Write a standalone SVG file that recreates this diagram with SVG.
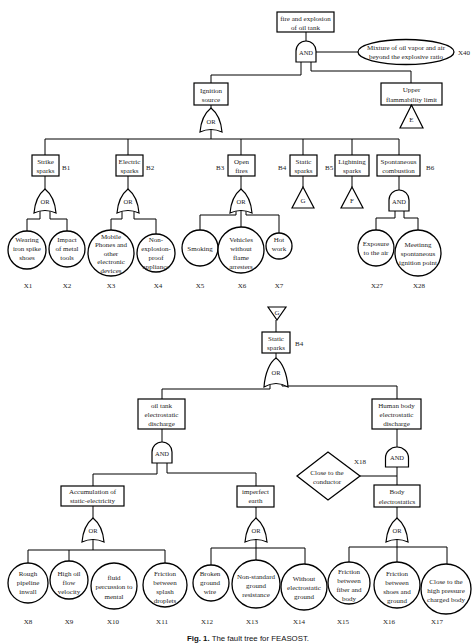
<svg xmlns="http://www.w3.org/2000/svg" width="474" height="644" viewBox="0 0 474 644">
<style>
.ln{fill:none;stroke:#000;stroke-width:1}
.bx{fill:#fff;stroke:#000;stroke-width:1.2}
.cr{fill:#fff;stroke:#000;stroke-width:1.3}
.gt{fill:#fff;stroke:#000;stroke-width:1.2}
text{font-family:"Liberation Serif","Times New Roman",serif;font-size:7px;fill:#222;text-anchor:middle}
.lb{text-anchor:start}
.g{font-size:6.5px}
.cap{font-family:"Liberation Sans",Arial,sans-serif;font-size:8px;text-anchor:start;fill:#111}
</style>
<defs>
<path id="or" d="M0,0 C5,4 10,12 11,24 Q0,19 -11,24 C-10,12 -5,4 0,0 Z"/>
<path id="and" d="M-10,21 L-10,10 A10,10 0 0 1 10,10 L10,21 Z"/>
</defs>

<g id="connectors">
<path class="ln" d="M306,32 V42 M316,52 H358 M301,61 V75 H211 V83 M311,61 V71 H411 V83"/>
<path class="ln" d="M211,105 V108 M211,129 V139 M45,139 H399 M45,139 V155 M128,139 V155 M241,139 V155 M303,139 V155 M352,139 V155 M399,139 V155"/>
<path class="ln" d="M45,176 V189 M128,176 V189 M241,176 V189 M303,176 V187 M352,176 V187 M399,176 V190 M411,105 V106"/>
<path class="ln" d="M40,209 V219 H27 V231 M50,209 V219 H67 V231 M122,209 V219 H111 V230 M134,209 V219 H156 V234 M236,209 V215 H200 V230 M241,209 V227 M246,209 V215 H279 V233 M395,211 V218 H376 V230 M404,211 V218 H418 V230"/>
<path class="ln" d="M276,320 V332 M276,353 V358 M270,384 V389 H162 V399 M282,384 V386 H397 V399"/>
<path class="ln" d="M162,429 V442 M157,463 V474 H93 V486 M167,463 V473 H256 V486 M93,506 V518 M256,507 V518"/>
<path class="ln" d="M397,429 V447 M397,467 V485 M360,476 H397 M397,507 V518"/>
<path class="ln" d="M93,539 V550 M28,550 H165 M28,550 V563 M69,550 V561 M165,550 V563"/>
<path class="ln" d="M256,539 V560 M211,548 H305 M211,548 V565 M305,548 V564"/>
<path class="ln" d="M397,539 V562 M349,547 H447 M349,547 V562 M447,547 V564"/>
</g>

<g id="top-event">
<rect class="bx" x="277" y="12" width="57" height="20"/>
<text x="305.5" y="20.5">fire and explosion</text>
<text x="305.5" y="29.5">of oil tank</text>
</g>
<g id="and-top"><use href="#and" class="gt" transform="translate(306,41)"/><text class="g" x="306" y="55">AND</text></g>
<g id="x40">
<ellipse class="cr" cx="406" cy="52" rx="48" ry="12.5"/>
<text x="406" y="50">Mixture of oil vapor and air</text>
<text x="406" y="59">beyond the explosive ratio</text>
<text class="lb" x="458" y="55">X40</text>
</g>
<g id="ignition">
<rect class="bx" x="194" y="83" width="34" height="22"/>
<text x="211" y="92.5">Ignition</text>
<text x="211" y="101.5">source</text>
</g>
<g id="upper">
<rect class="bx" x="381" y="83" width="61" height="22"/>
<text x="411.5" y="91.5">Upper</text>
<text x="411.5" y="101.5">flammability limit</text>
</g>
<g id="E"><polygon class="gt" points="411.5,105 400,128 423,128"/><text x="411.5" y="122">E</text></g>
<g id="or-ign"><use href="#or" class="gt" transform="translate(211,108)"/><text class="g" x="211" y="123.5">OR</text></g>

<g id="B1">
<rect class="bx" x="32" y="155" width="27" height="21"/>
<text x="45.5" y="164">Strike</text><text x="45.5" y="173">sparks</text>
<text class="lb" x="62" y="170">B1</text>
</g>
<g id="B2">
<rect class="bx" x="116" y="155" width="27" height="21"/>
<text x="129.5" y="164">Electric</text><text x="129.5" y="173">sparks</text>
<text class="lb" x="146" y="170">B2</text>
</g>
<g id="B3">
<rect class="bx" x="228" y="155" width="27" height="21"/>
<text x="241.5" y="164">Open</text><text x="241.5" y="173">fires</text>
<text class="lb" x="216" y="170">B3</text>
</g>
<g id="B4">
<rect class="bx" x="290" y="155" width="27" height="21"/>
<text x="303.5" y="164">Static</text><text x="303.5" y="173">sparks</text>
<text class="lb" x="278" y="170">B4</text>
</g>
<g id="B5">
<rect class="bx" x="335" y="155" width="34" height="21"/>
<text x="352" y="164">Lightning</text><text x="352" y="173">sparks</text>
<text class="lb" x="325" y="170">B5</text>
</g>
<g id="B6">
<rect class="bx" x="377" y="155" width="43" height="21"/>
<text x="398.5" y="164">Spontaneous</text><text x="398.5" y="173">combustion</text>
<text class="lb" x="426" y="170">B6</text>
</g>

<g id="or-b1"><use href="#or" class="gt" transform="translate(45,189)"/><text class="g" x="45" y="204">OR</text></g>
<g id="or-b2"><use href="#or" class="gt" transform="translate(128,189)"/><text class="g" x="128" y="204">OR</text></g>
<g id="or-b3"><use href="#or" class="gt" transform="translate(241,189)"/><text class="g" x="241" y="204">OR</text></g>
<g id="G1"><polygon class="gt" points="303,187 292,208 314,208"/><text x="303" y="203">G</text></g>
<g id="F"><polygon class="gt" points="352,187 341,208 363,208"/><text x="352" y="203">F</text></g>
<g id="and-b6"><use href="#and" class="gt" transform="translate(399,190)"/><text class="g" x="399" y="203.5">AND</text></g>

<g id="X1"><circle class="cr" cx="27" cy="250" r="19"/><text x="27" y="242">Wearing</text><text x="27" y="251">iron spike</text><text x="27" y="260">shoes</text><text x="28" y="288">X1</text></g>
<g id="X2"><circle class="cr" cx="67" cy="249" r="18"/><text x="67" y="241.5">Impact</text><text x="67" y="250.5">of metal</text><text x="67" y="259.5">tools</text><text x="67" y="288">X2</text></g>
<g id="X3"><circle class="cr" cx="111" cy="253" r="23"/><text x="111" y="238.5">Mobile</text><text x="111" y="247">Phones and</text><text x="111" y="255.5">other</text><text x="111" y="264">electronic</text><text x="111" y="272.5">devices</text><text x="111" y="288">X3</text></g>
<g id="X4"><circle class="cr" cx="156" cy="253" r="19"/><text x="156" y="241.5">Non-</text><text x="156" y="250.5">explosion-</text><text x="156" y="259.5">proof</text><text x="156" y="268.5">appliance</text><text x="158" y="288">X4</text></g>
<g id="X5"><circle class="cr" cx="200" cy="248" r="18"/><text x="200" y="250.5">Smoking</text><text x="200" y="288">X5</text></g>
<g id="X6"><circle class="cr" cx="241" cy="250" r="23"/><text x="241" y="241.5">Vehicles</text><text x="241" y="250.5">without</text><text x="241" y="259.5">flame</text><text x="241" y="268.5">arresters</text><text x="242" y="288">X6</text></g>
<g id="X7"><circle class="cr" cx="279" cy="246" r="13"/><text x="279" y="241.5">Hot</text><text x="279" y="250.5">work</text><text x="279" y="288">X7</text></g>
<g id="X27"><circle class="cr" cx="376" cy="248" r="18"/><text x="376" y="245.5">Exposure</text><text x="376" y="255">to the air</text><text x="377" y="288">X27</text></g>
<g id="X28"><circle class="cr" cx="418" cy="253" r="23"/><text x="418" y="246.5">Meetinng</text><text x="418" y="255.5">spontaneous</text><text x="418" y="265">ignition point</text><text x="419" y="288">X28</text></g>

<g id="G2"><polygon class="gt" points="268,307 286,307 277,320"/><text x="277" y="315">G</text></g>
<g id="B4b">
<rect class="bx" x="262" y="332" width="28" height="21"/>
<text x="276" y="340.5">Static</text><text x="276" y="350">sparks</text>
<text class="lb" x="295" y="346">B4</text>
</g>
<g id="or-b4"><path class="gt" d="M276,358 C282,362 287,373 288,387 Q276,380 264,387 C265,373 270,362 276,358 Z"/><text class="g" x="276" y="375">OR</text></g>
<g id="oil-tank">
<rect class="bx" x="138" y="399" width="47" height="30"/>
<text x="161.5" y="407.5">oil tank</text><text x="161.5" y="416.5">electrostatic</text><text x="161.5" y="425.5">discharge</text>
</g>
<g id="human-body">
<rect class="bx" x="372" y="399" width="49" height="30"/>
<text x="396.5" y="407.5">Human body</text><text x="396.5" y="416.5">electrostatic</text><text x="396.5" y="425.5">discharge</text>
</g>
<g id="and-oil"><use href="#and" class="gt" transform="translate(162,442)"/><text class="g" x="162" y="455.5">AND</text></g>
<g id="and-hb"><path class="gt" d="M385.5,467 L385.5,458 A11.5,11 0 0 1 408.5,458 L408.5,467 Z"/><text class="g" x="397" y="459.5">AND</text></g>
<g id="X18">
<polygon class="cr" points="297,476 328,452 360,476 328,500"/>
<text x="327" y="474.5">Close to the</text><text x="327" y="483.5">conductor</text>
<text class="lb" x="354" y="464">X18</text>
</g>
<g id="accum">
<rect class="bx" x="61" y="486" width="63" height="20"/>
<text x="92.5" y="493.5">Accumulation of</text><text x="92.5" y="502.5">static-electricity</text>
</g>
<g id="imperfect">
<rect class="bx" x="237" y="486" width="37" height="21"/>
<text x="255.5" y="493.5">imperfect</text><text x="255.5" y="502.5">earth</text>
</g>
<g id="body-es">
<rect class="bx" x="374" y="485" width="46" height="22"/>
<text x="397" y="494">Body</text><text x="397" y="503.5">electrostatics</text>
</g>
<g id="or-acc"><use href="#or" class="gt" transform="translate(93,518)"/><text class="g" x="93" y="533">OR</text></g>
<g id="or-imp"><use href="#or" class="gt" transform="translate(256,518)"/><text class="g" x="256" y="533">OR</text></g>
<g id="or-body"><use href="#or" class="gt" transform="translate(397,518)"/><text class="g" x="397" y="533">OR</text></g>

<g id="X8"><circle class="cr" cx="28" cy="583" r="20"/><text x="28" y="575.5">Rough</text><text x="28" y="584.5">pipeline</text><text x="28" y="594">inwall</text><text x="28" y="623.5">X8</text></g>
<g id="X9"><circle class="cr" cx="69" cy="580" r="19"/><text x="69" y="575.5">High oil</text><text x="69" y="584.5">flow</text><text x="69" y="594">velocity</text><text x="69" y="623.5">X9</text></g>
<g id="X10"><circle class="cr" cx="114" cy="586" r="23"/><text x="114" y="579.5">fluid</text><text x="114" y="589">percussion to</text><text x="114" y="598.5">mental</text><text x="113" y="623.5">X10</text></g>
<g id="X11"><circle class="cr" cx="165" cy="585" r="22"/><text x="165" y="575.5">Friction</text><text x="165" y="584.5">between</text><text x="165" y="594">splash</text><text x="165" y="603">droplets</text><text x="162" y="623.5">X11</text></g>
<g id="X12"><circle class="cr" cx="211" cy="583" r="18"/><text x="210" y="575.5">Broken</text><text x="210" y="584.5">ground</text><text x="210" y="594">wire</text><text x="207" y="623.5">X12</text></g>
<g id="X13"><circle class="cr" cx="256" cy="584" r="24"/><text x="256" y="578.5">Non-standard</text><text x="256" y="587.5">ground</text><text x="256" y="597">resistance</text><text x="252" y="623.5">X13</text></g>
<g id="X14"><circle class="cr" cx="304" cy="587" r="23"/><text x="304" y="580.5">Without</text><text x="304" y="589.5">electrostatic</text><text x="304" y="599">ground</text><text x="299" y="623.5">X14</text></g>
<g id="X15"><circle class="cr" cx="349" cy="583" r="21"/><text x="349" y="573.5">Friction</text><text x="349" y="582.5">between</text><text x="349" y="592">fiber and</text><text x="349" y="600.5">body</text><text x="343" y="623.5">X15</text></g>
<g id="X16"><circle class="cr" cx="397" cy="585" r="23"/><text x="397" y="575.5">Friction</text><text x="397" y="584.5">between</text><text x="397" y="594">shoes and</text><text x="397" y="603">ground</text><text x="389" y="623.5">X16</text></g>
<g id="X17"><circle class="cr" cx="446" cy="589" r="25"/><text x="446" y="583.5">Close to the</text><text x="446" y="592.5">high pressure</text><text x="446" y="602">charged body</text><text x="437" y="623.5">X17</text></g>

<text class="cap" x="187" y="641" textLength="122" lengthAdjust="spacingAndGlyphs"><tspan font-weight="bold">Fig. 1.</tspan> The fault tree for FEASOST.</text>
</svg>
